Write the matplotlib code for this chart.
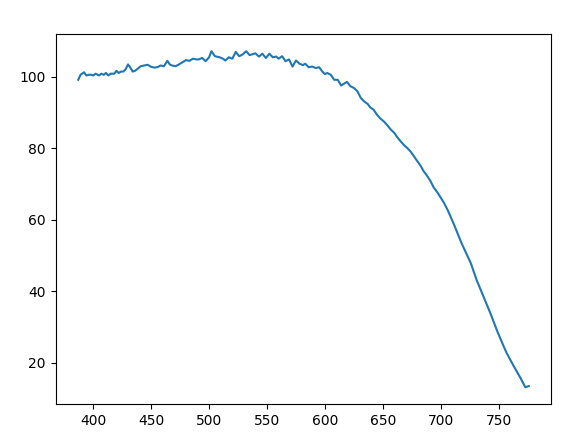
import matplotlib
matplotlib.use('Agg')
import matplotlib.pyplot as plt

# wavelength
wl = [387, 389, 392, 394, 396, 398, 400, 402, 405, 407, 409, 411, 413, 415,
      418, 420, 422, 424, 426, 428, 430, 432, 434, 436, 438, 441, 444, 447,
      450, 453, 456, 458, 461, 464, 466, 468, 471, 474, 477, 480, 483, 486,
      489, 491, 494, 497, 500, 502, 505, 509, 512, 514, 517, 520, 523, 526,
      529, 532, 535, 537, 540, 543, 546, 549, 552, 555, 558, 560, 563, 566,
      569, 572, 575, 578, 581, 583, 586, 589, 592, 595, 598, 600, 602, 605,
      608, 611, 614, 616, 619, 622, 625, 628, 631, 634, 637, 639, 642, 645,
      648, 651, 654, 657, 660, 662, 665, 668, 671, 674, 677, 680, 683, 685,
      688, 691, 694, 697, 700, 703, 706, 711, 718, 726, 731, 737, 743, 749,
      754, 757, 763, 769, 773, 776]
val = [99.2, 100.6, 101.3, 100.4, 100.6, 100.6, 100.4, 100.9, 100.4, 100.9,
       100.6, 101.1, 100.4, 100.9, 100.9, 101.7, 101.1, 101.5, 101.5, 102.2,
       103.5, 102.6, 101.5, 101.7, 102.2, 103.0, 103.2, 103.4, 102.8, 102.6,
       102.8, 103.2, 103.0, 104.5, 103.5, 103.2, 103.0, 103.5, 104.1, 104.7,
       104.5, 105.1, 104.9, 104.9, 105.3, 104.4, 105.5, 107.2, 105.8, 105.5,
       105.1, 104.6, 105.5, 105.1, 107.0, 105.8, 106.3, 107.2, 106.1, 106.3,
       106.6, 105.7, 106.5, 105.3, 106.5, 105.5, 105.7, 105.1, 105.8, 104.4,
       104.9, 102.9, 104.6, 103.7, 103.3, 103.7, 102.7, 102.9, 102.5, 102.7,
       101.4, 100.8, 101.1, 100.6, 99.2, 99.2, 97.6, 98.0, 98.6, 97.4, 96.9,
       96.0, 94.1, 93.1, 92.4, 91.5, 90.8, 89.4, 88.3, 87.5, 86.4, 85.2, 84.3,
       83.3, 82.1, 81.0, 80.1, 79.1, 77.7, 76.3, 74.9, 73.7, 72.4, 70.9, 69.0,
       67.7, 66.2, 64.6, 62.7, 59.0, 53.4, 47.8, 43.1, 38.4, 33.7, 28.6, 24.8,
       22.6, 19.0, 15.6, 13.1, 13.4]

fig = plt.figure(figsize=(5.64, 4.45), dpi=100)
ax = fig.add_axes([55.7 / 564, 41 / 445, 495.6 / 564, 369.6 / 445])
ax.plot(wl, val)
fig.savefig('out.png', dpi=100)
